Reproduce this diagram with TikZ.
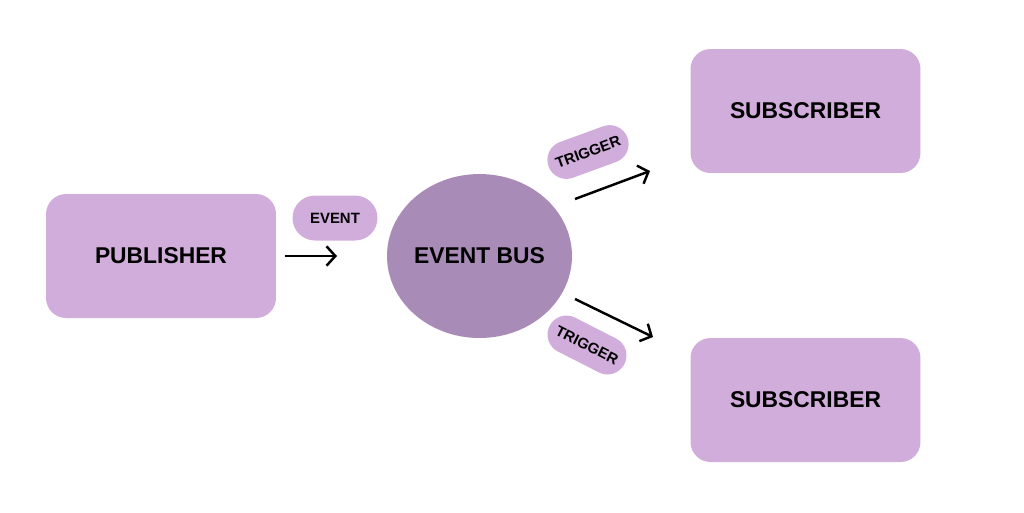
\documentclass[tikz,border=0pt]{standalone}
\usepackage{fontspec}
\setmainfont{Liberation Sans}
\usepackage{pgf,tikz}
\usetikzlibrary{arrows.meta,shapes.geometric}
\definecolor{lilac}{RGB}{209,173,219}
\definecolor{busviolet}{RGB}{169,139,183}
\tikzset{
	box/.style={fill=lilac,rounded corners=0.4cm,minimum width=4.6cm,minimum height=2.48cm,font=\fontsize{13}{15}\selectfont\bfseries},
	pill/.style={fill=lilac,rounded corners=0.38cm,minimum width=1.68cm,minimum height=0.76cm,inner sep=0pt,font=\fontsize{8.5}{10}\selectfont\bfseries},
	flow/.style={->,line width=1.4pt}
}

\begin{document}
\begin{tikzpicture}[>={Straight Barb[length=5pt,width=11pt,line width=1.4pt]},x=0.02cm,y=-0.02cm]
		\useasboundingbox[fill=white] (0,0) rectangle (1024,512);
		\node[box] (pub) at (161,256) {PUBLISHER};
		\node[ellipse,fill=busviolet,inner sep=0pt,minimum width=3.7cm,minimum height=3.28cm,font=\fontsize{13}{15}\selectfont\bfseries] (bus) at (479.5,256) {EVENT BUS};
		\node[box] (subA) at (805.5,111) {SUBSCRIBER};
		\node[box] (subB) at (805.5,400) {SUBSCRIBER};
		\node[pill,minimum width=1.7cm,minimum height=0.9cm,rounded corners=0.45cm] (ev) at (335,218) {EVENT};
		\node[pill,rotate=20] (trA) at (588,152) {TRIGGER};
		\node[pill,rotate=-27] (trB) at (587,345) {TRIGGER};
		\coordinate (pubOut) at (285,256);
		\coordinate (busIn) at (337,256);
		\coordinate (busOutA) at (575,199);
		\coordinate (subInA) at (650,171);
		\coordinate (busOutB) at (575,299);
		\coordinate (subInB) at (653,337);
		\draw[flow] (pubOut) -- (busIn);
		\draw[flow] (busOutA) -- (subInA);
		\draw[flow] (busOutB) -- (subInB);
	\end{tikzpicture}
\end{document}
